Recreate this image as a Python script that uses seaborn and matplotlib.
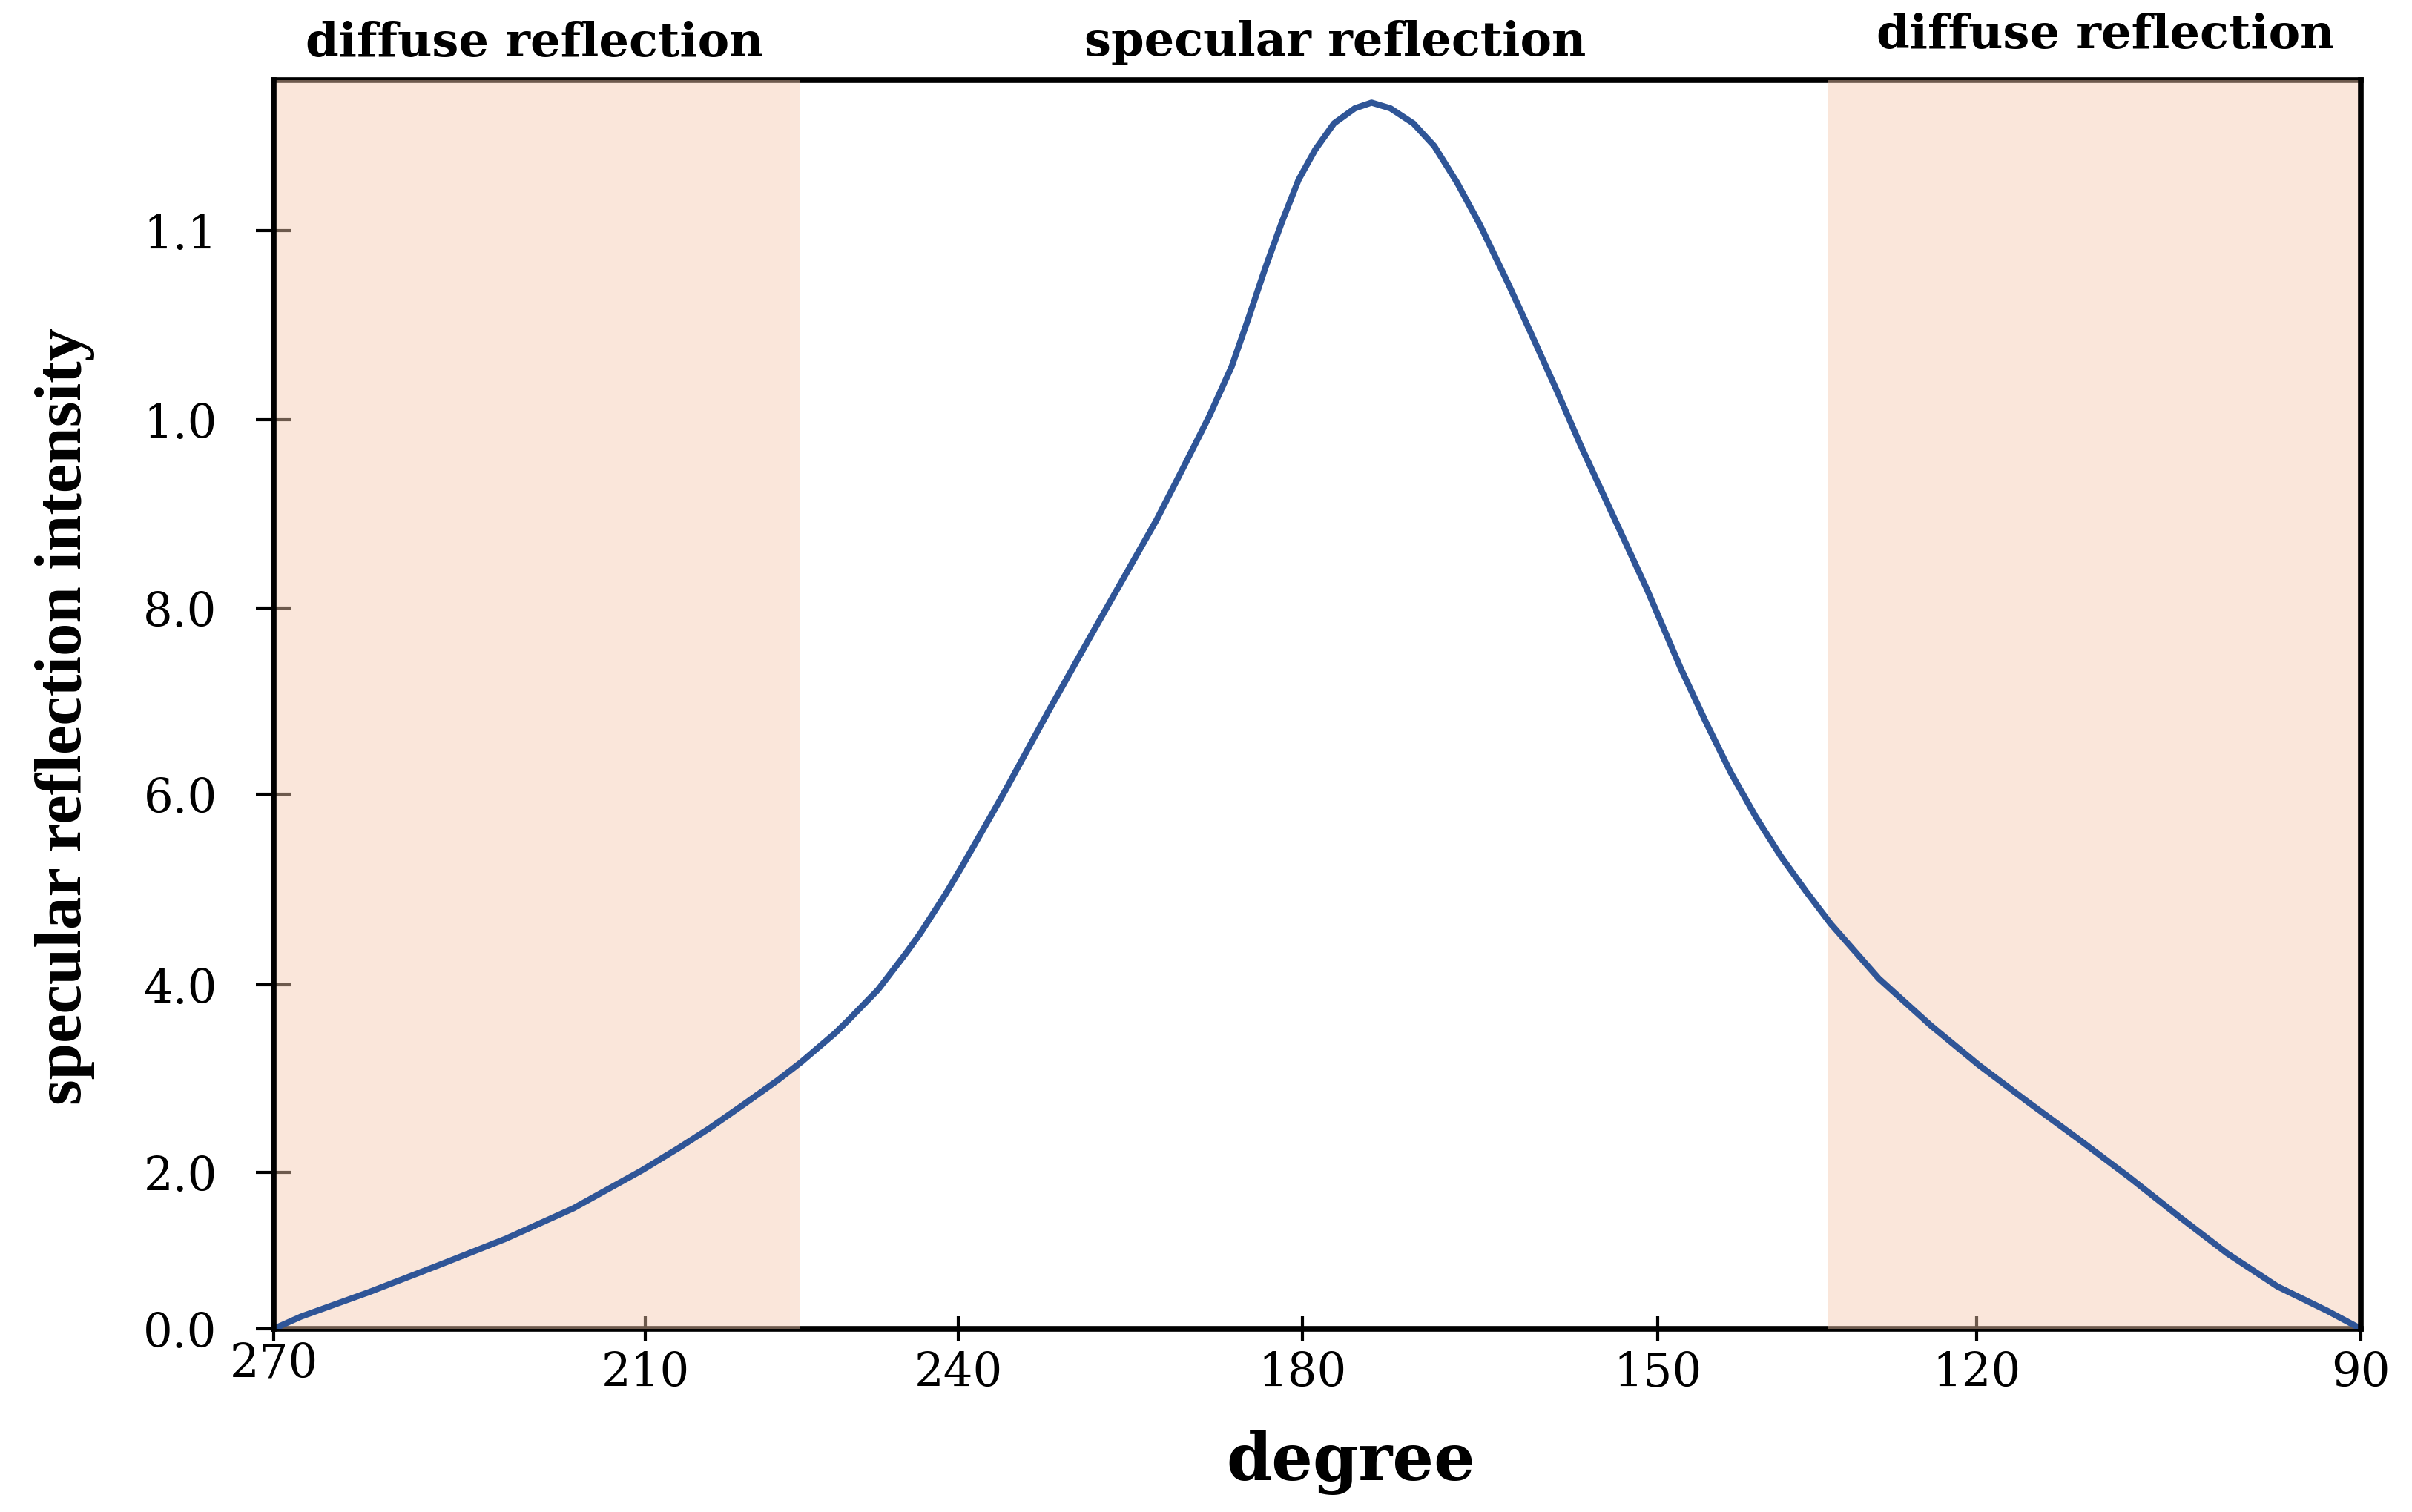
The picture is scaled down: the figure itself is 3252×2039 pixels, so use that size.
import matplotlib
matplotlib.use("Agg")
import matplotlib.pyplot as plt
import seaborn as sns

# ---------------------------------------------
# data (x = position along axis, 0..100)
# ---------------------------------------------
x_pos = [0.0, 1.31, 4.57, 7.84, 11.1, 14.36, 17.62, 19.4, 20.88, 22.5, 24.15, 25.26,
         26.9, 27.5, 28.95, 30.3, 30.98, 32.2, 33.03, 34.5, 35.06, 37.1, 39.15, 41.2,
         42.3, 43.5, 44.8, 45.9, 46.7, 47.5, 48.3, 49.1, 49.9, 50.8, 51.8, 52.6,
         53.5, 54.6, 55.6, 56.7, 57.8, 59.1, 60.2, 61.5, 62.6, 64.2, 65.8, 67.4,
         68.6, 69.8, 71.0, 72.2, 73.4, 74.6, 76.9, 79.4, 81.7, 84.1, 86.5, 88.9,
         91.3, 93.6, 96.0, 98.4, 100.0]
intensity = [0.00, 0.13, 0.39, 0.67, 0.955, 1.28, 1.68, 1.92, 2.13, 2.38, 2.64, 2.83,
             3.14, 3.27, 3.60, 3.99, 4.20, 4.62, 4.93, 5.50, 5.72, 6.55, 7.36, 8.16,
             8.59, 9.11, 9.68, 10.22, 10.73, 11.26, 11.75, 12.20, 12.52, 12.80, 12.96, 13.02,
             12.96, 12.80, 12.56, 12.17, 11.72, 11.12, 10.59, 9.95, 9.39, 8.62, 7.85, 7.02,
             6.45, 5.91, 5.44, 5.02, 4.65, 4.30, 3.72, 3.22, 2.80, 2.40, 2.01, 1.61,
             1.19, 0.80, 0.45, 0.19, 0.00]

x_tick_pos = [0, 17.8, 32.8, 49.3, 66.3, 81.6, 100]
x_tick_labels = ["270", "210", "240", "180", "150", "120", "90"]
y_tick_pos = [0, 1.66, 3.65, 5.68, 7.65, 9.65, 11.66]
y_tick_labels = ["0.0", "2.0", "4.0", "6.0", "8.0", "1.0", "1.1"]

diffuse_left = (0, 25.2)
diffuse_right = (74.5, 100)
region_labels = ["diffuse reflection", "specular reflection", "diffuse reflection"]

# ---------------------------------------------
# style
# ---------------------------------------------
sns.set_theme(style="white")
plt.rcParams["font.family"] = ["DejaVu Serif"]
plt.rcParams["text.color"] = "black"
plt.rcParams["axes.labelcolor"] = "black"
plt.rcParams["xtick.color"] = "black"
plt.rcParams["ytick.color"] = "black"

fig, ax = plt.subplots(figsize=(32.52, 20.4), dpi=100)
fig.subplots_adjust(left=0.1135, right=0.9788, top=0.9466, bottom=0.1211)

# shaded diffuse regions (drawn over the axis so spines/ticks get tinted)
for lo, hi in [diffuse_left, diffuse_right]:
    ax.axvspan(lo, hi, color="#F4C8AD", alpha=0.45, lw=0, zorder=3)

sns.lineplot(x=x_pos, y=intensity, ax=ax, color="#2F5597", linewidth=6, zorder=4)

ax.set_xlim(0, 100)
ax.set_ylim(0, 13.26)
ax.set_xticks(x_tick_pos)
ax.set_xticklabels(x_tick_labels)
ax.set_yticks(y_tick_pos)
ax.set_yticklabels(y_tick_labels)

for side in ["left", "right", "top", "bottom"]:
    ax.spines[side].set_visible(True)
    ax.spines[side].set_color("black")
    ax.spines[side].set_linewidth(5.5)
ax.spines["left"].set_zorder(5)
ax.spines["right"].set_zorder(5)

ax.tick_params(axis="x", direction="inout", length=25, width=3,
               labelsize=45, pad=8, bottom=True)
ax.tick_params(axis="y", direction="inout", length=34, width=3,
               labelsize=45, pad=38, left=True)
# the "270" label sits a little higher in the original
ax.xaxis.get_major_ticks()[0].label1.set_y(0.007)

ax.set_xlabel("degree", fontsize=63, fontweight="bold")
ax.xaxis.set_label_coords(0.516, -0.081)
ax.set_ylabel("specular reflection intensity", fontsize=64, fontweight="bold",
              family=["Liberation Serif", "DejaVu Serif"])
ax.yaxis.set_label_coords(-0.0856, 0.491)

# region labels above the frame
fig.text(721 / 3252, 1 - 76 / 2040, region_labels[0], ha="center", va="baseline",
         fontsize=46, fontweight="bold")
fig.text(1800 / 3252, 1 - 75 / 2040, region_labels[1], ha="center", va="baseline",
         fontsize=46, fontweight="bold")
fig.text(2839 / 3252, 1 - 65 / 2040, region_labels[2], ha="center", va="baseline",
         fontsize=46, fontweight="bold")

fig.savefig("out.png", dpi=100)
